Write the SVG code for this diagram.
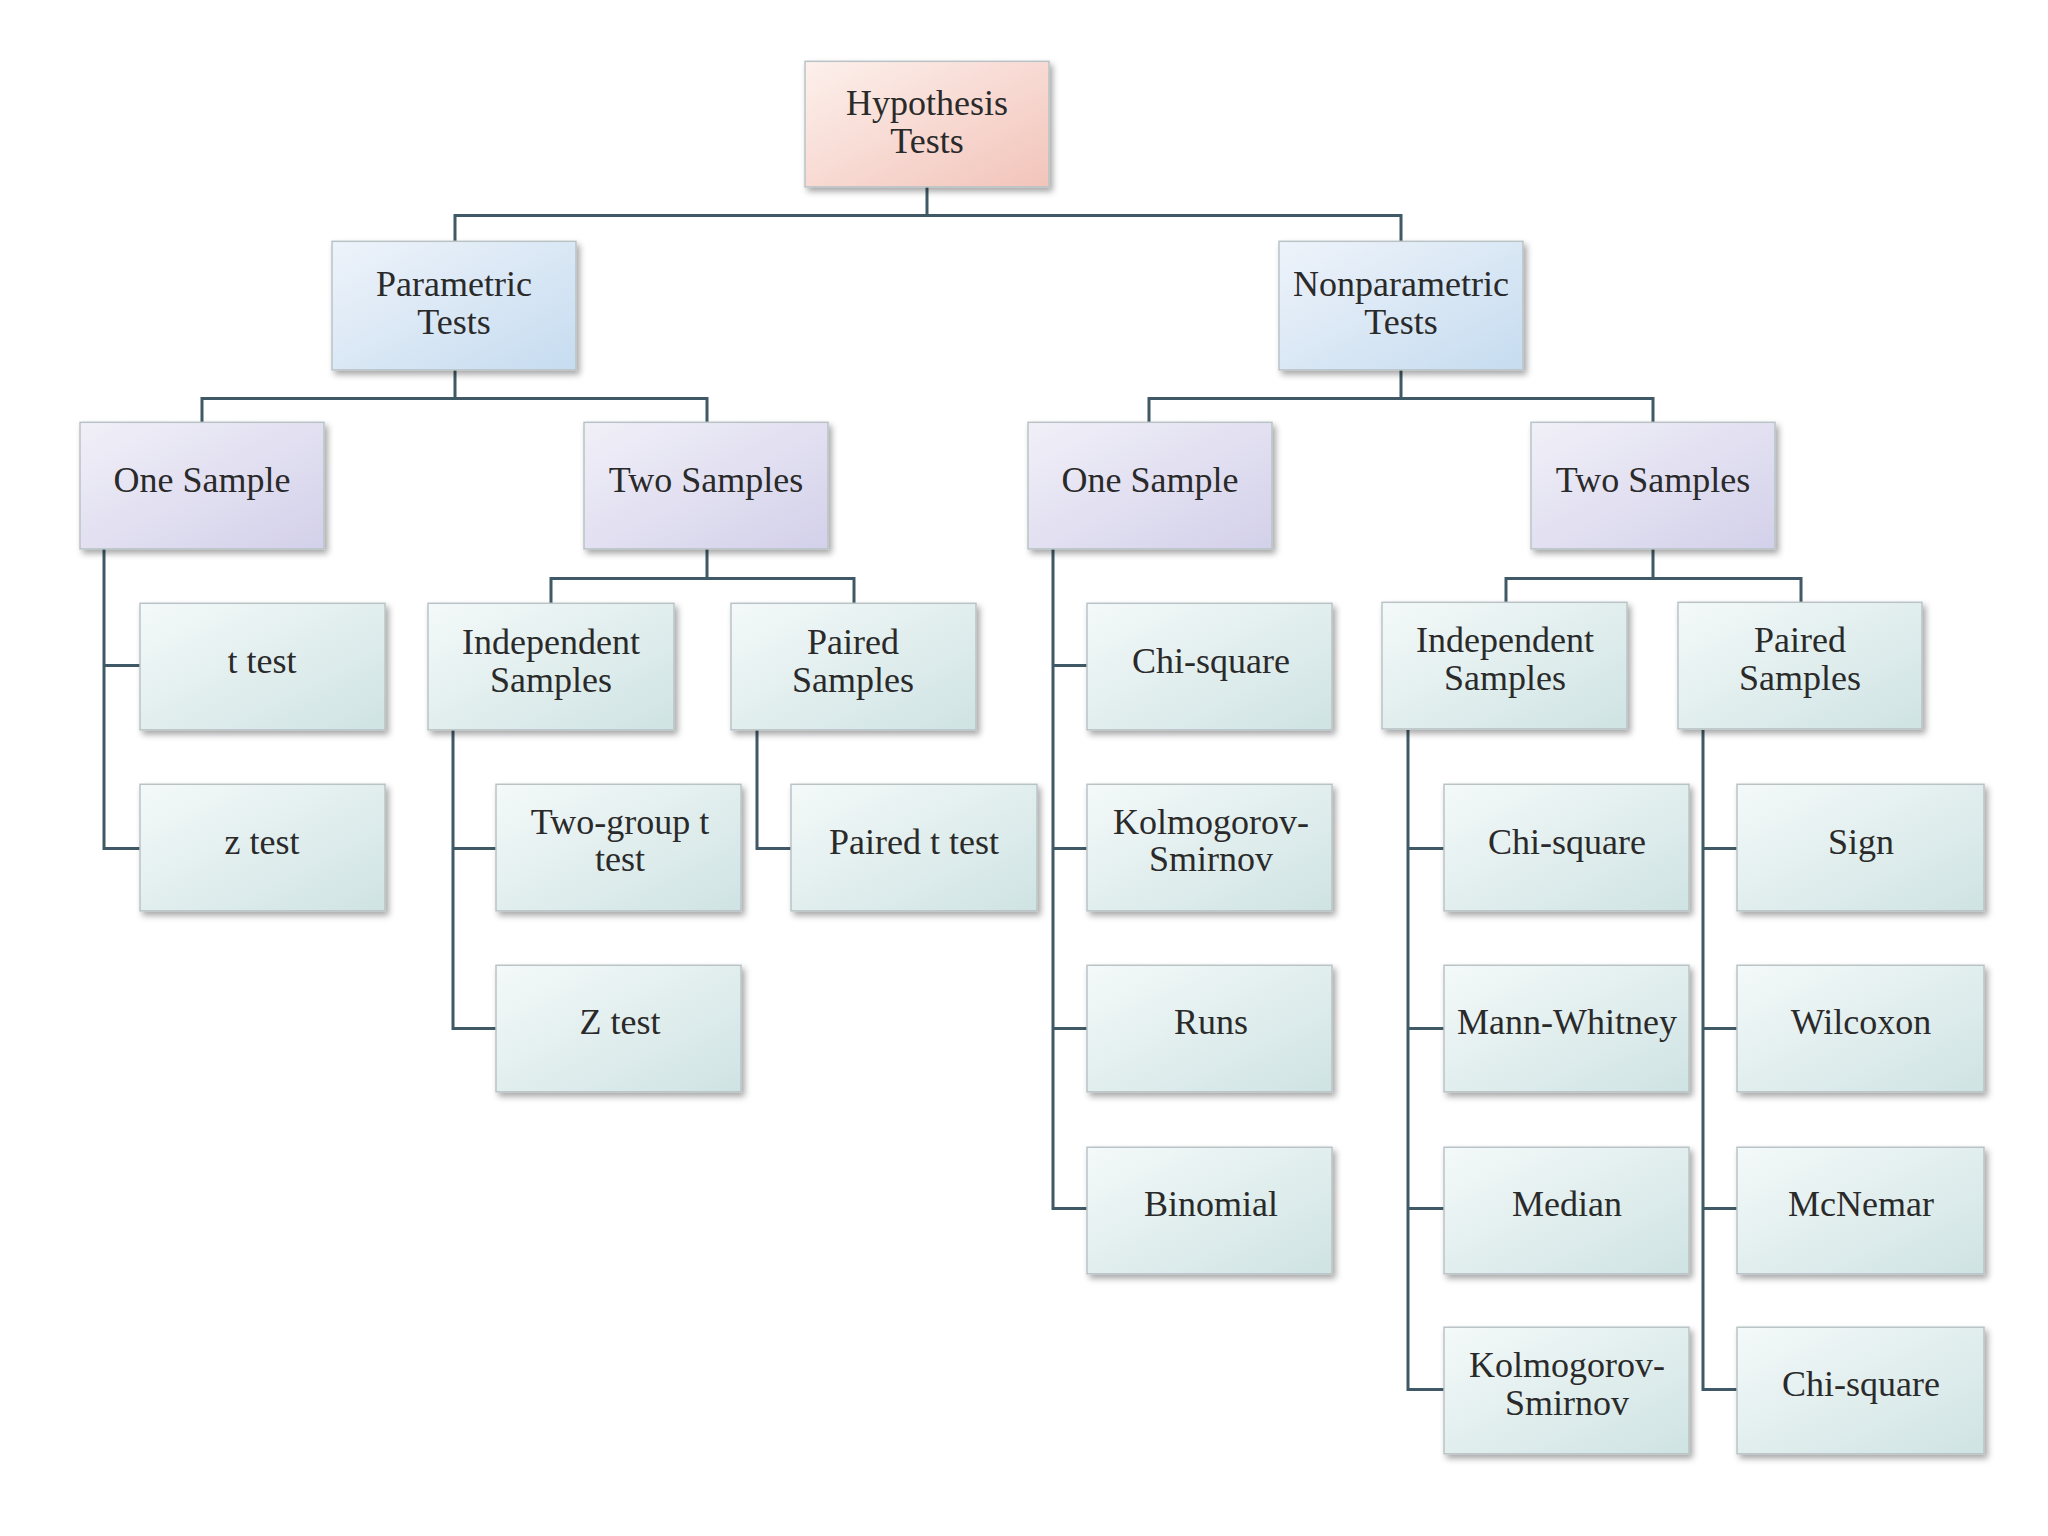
<svg xmlns="http://www.w3.org/2000/svg" width="2048" height="1536" viewBox="0 0 2048 1536">
<defs>
<linearGradient id="gLeaf" x1="0" y1="0" x2="1" y2="1"><stop offset="0" stop-color="#f4f9f9"/><stop offset="1" stop-color="#cfe3e3"/></linearGradient>
<linearGradient id="gL1" x1="0" y1="0" x2="1" y2="1"><stop offset="0" stop-color="#eef3fa"/><stop offset="1" stop-color="#c6dcf0"/></linearGradient>
<linearGradient id="gL2" x1="0" y1="0" x2="1" y2="1"><stop offset="0" stop-color="#f1f0f8"/><stop offset="1" stop-color="#d3d0ea"/></linearGradient>
<linearGradient id="gTop" x1="0" y1="0" x2="1" y2="1"><stop offset="0" stop-color="#fdf0ec"/><stop offset="1" stop-color="#f2c4ba"/></linearGradient>
<filter id="sh" x="-10%" y="-10%" width="125%" height="130%"><feDropShadow dx="3" dy="4" stdDeviation="3" flood-color="#000" flood-opacity="0.35"/></filter>
</defs>
<style>
rect{stroke:#b9c3c6;stroke-width:1.5;filter:url(#sh)}
.leaf{fill:url(#gLeaf)} .l1{fill:url(#gL1)} .l2{fill:url(#gL2)} .top{fill:url(#gTop)}
text{font-family:"Liberation Serif","DejaVu Serif",serif;font-size:36px;fill:#2a2a2a;text-anchor:middle}
#connectors path{fill:none;stroke:#3f5a66;stroke-width:3}
</style>
<rect width="2048" height="1536" fill="#fff" style="filter:none;stroke:none"/>
<g transform="scale(1,0.989)">
<g id="connectors">
<path d="M927 189V218M455 244V218H1401V244"/>
<path d="M455 374V403M202 427V403H707V427"/>
<path d="M1401 374V403M1149 427V403H1653V427"/>
<path d="M707 555V585M551 610V585H854V610"/>
<path d="M1653 555V585M1506 610V585H1801V610"/>
<path d="M104 555V858H140M104 673H140"/>
<path d="M453 738V1040H496M453 858H496"/>
<path d="M757 738V858H791"/>
<path d="M1053 555V1222H1087M1053 673H1087M1053 858H1087M1053 1040H1087"/>
<path d="M1408 738V1405H1444M1408 858H1444M1408 1040H1444M1408 1222H1444"/>
<path d="M1703 738V1405H1737M1703 858H1737M1703 1040H1737M1703 1222H1737"/>
</g>
<g id="hyp"><rect class="top" x="805" y="62" width="244" height="127"/><text x="927" y="116">Hypothesis</text><text x="927" y="155">Tests</text></g>
<g id="param"><rect class="l1" x="332" y="244" width="244" height="130"/><text x="454" y="299">Parametric</text><text x="454" y="338">Tests</text></g>
<g id="nonparam"><rect class="l1" x="1279" y="244" width="244" height="130"/><text x="1401" y="299">Nonparametric</text><text x="1401" y="338">Tests</text></g>
<g id="p-one"><rect class="l2" x="80" y="427" width="244" height="128"/><text x="202" y="497">One Sample</text></g>
<g id="p-two"><rect class="l2" x="584" y="427" width="244" height="128"/><text x="706" y="497">Two Samples</text></g>
<g id="n-one"><rect class="l2" x="1028" y="427" width="244" height="128"/><text x="1150" y="497">One Sample</text></g>
<g id="n-two"><rect class="l2" x="1531" y="427" width="244" height="128"/><text x="1653" y="497">Two Samples</text></g>
<g id="ttest"><rect class="leaf" x="140" y="610" width="245" height="128"/><text x="262" y="680">t test</text></g>
<g id="ztest"><rect class="leaf" x="140" y="793" width="245" height="128"/><text x="262" y="863">z test</text></g>
<g id="p-indep"><rect class="leaf" x="428" y="610" width="246" height="128"/><text x="551" y="661">Independent</text><text x="551" y="700">Samples</text></g>
<g id="p-paired"><rect class="leaf" x="731" y="610" width="245" height="128"/><text x="853" y="661">Paired</text><text x="853" y="700">Samples</text></g>
<g id="twogroup"><rect class="leaf" x="496" y="793" width="245" height="128"/><text x="620" y="843">Two-group t</text><text x="620" y="881">test</text></g>
<g id="Ztest2"><rect class="leaf" x="496" y="976" width="245" height="128"/><text x="620" y="1046">Z test</text></g>
<g id="pairedt"><rect class="leaf" x="791" y="793" width="246" height="128"/><text x="914" y="863">Paired t test</text></g>
<g id="n1-chi"><rect class="leaf" x="1087" y="610" width="245" height="128"/><text x="1211" y="680">Chi-square</text></g>
<g id="n1-ks"><rect class="leaf" x="1087" y="793" width="245" height="128"/><text x="1211" y="843">Kolmogorov-</text><text x="1211" y="881">Smirnov</text></g>
<g id="n1-runs"><rect class="leaf" x="1087" y="976" width="245" height="128"/><text x="1211" y="1046">Runs</text></g>
<g id="n1-binom"><rect class="leaf" x="1087" y="1160" width="245" height="128"/><text x="1211" y="1230">Binomial</text></g>
<g id="n-indep"><rect class="leaf" x="1382" y="609" width="245" height="128"/><text x="1505" y="659">Independent</text><text x="1505" y="698">Samples</text></g>
<g id="n-paired"><rect class="leaf" x="1678" y="609" width="244" height="128"/><text x="1800" y="659">Paired</text><text x="1800" y="698">Samples</text></g>
<g id="ni-chi"><rect class="leaf" x="1444" y="793" width="245" height="128"/><text x="1567" y="863">Chi-square</text></g>
<g id="ni-mw"><rect class="leaf" x="1444" y="976" width="245" height="128"/><text x="1567" y="1046">Mann-Whitney</text></g>
<g id="ni-med"><rect class="leaf" x="1444" y="1160" width="245" height="128"/><text x="1567" y="1230">Median</text></g>
<g id="ni-ks"><rect class="leaf" x="1444" y="1342" width="245" height="128"/><text x="1567" y="1392">Kolmogorov-</text><text x="1567" y="1431">Smirnov</text></g>
<g id="np-sign"><rect class="leaf" x="1737" y="793" width="247" height="128"/><text x="1861" y="863">Sign</text></g>
<g id="np-wil"><rect class="leaf" x="1737" y="976" width="247" height="128"/><text x="1861" y="1046">Wilcoxon</text></g>
<g id="np-mcn"><rect class="leaf" x="1737" y="1160" width="247" height="128"/><text x="1861" y="1230">McNemar</text></g>
<g id="np-chi"><rect class="leaf" x="1737" y="1342" width="247" height="128"/><text x="1861" y="1412">Chi-square</text></g>
</g>
</svg>
